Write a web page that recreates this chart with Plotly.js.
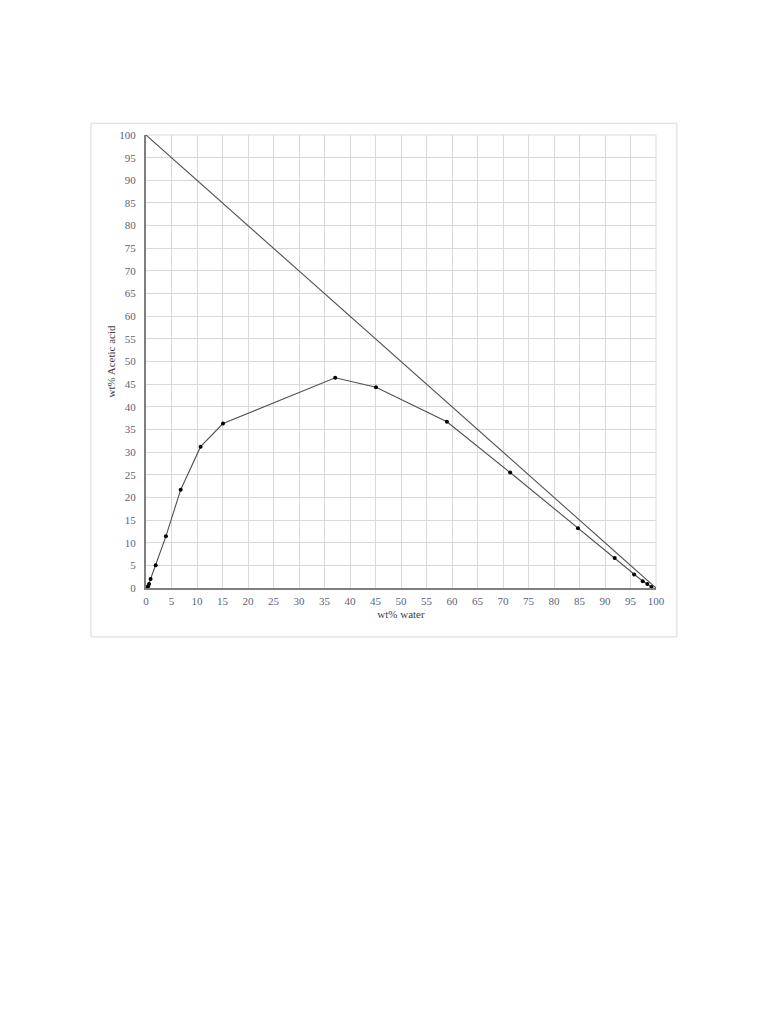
<!DOCTYPE html>
<html>
<head>
<meta charset="utf-8">
<script src="https://cdn.plot.ly/plotly-3.0.1.min.js"></script>
<style>
html,body{margin:0;padding:0;background:#fff;}
#chart{width:768px;height:1024px;}
</style>
</head>
<body>
<div id="chart"></div>
<script>
// Binodal curve data (wt% water, wt% acetic acid)
var waterPct = [0.2, 0.4, 0.6, 0.9, 1.9, 3.9, 6.8, 10.7, 15.1, 37.1, 45.1, 59.0, 71.4, 84.7, 91.9, 95.7, 97.4, 98.3, 99.1];
var aceticPct = [0.1, 0.4, 0.9, 2.0, 5.0, 11.4, 21.7, 31.2, 36.3, 46.4, 44.3, 36.7, 25.5, 13.2, 6.6, 3.0, 1.5, 0.9, 0.2];
// Triangle hypotenuse
var hypX = [0, 100];
var hypY = [100, 0];
var tickVals = [0,5,10,15,20,25,30,35,40,45,50,55,60,65,70,75,80,85,90,95,100];
var xTitle = 'wt% water';
var yTitle = 'wt% Acetic acid';

var traces = [
  {x: hypX, y: hypY, mode: 'lines', line: {color: '#505050', width: 1.1}, hoverinfo: 'skip'},
  {x: waterPct, y: aceticPct, mode: 'lines+markers',
   line: {color: '#505050', width: 1.1},
   marker: {color: '#000000', size: 4}}
];

var axisFont = {family: 'Liberation Serif, serif', size: 11, color: '#5b6378'};
var layout = {
  width: 768, height: 1024,
  margin: {l: 146, r: 112, t: 135, b: 436},
  paper_bgcolor: '#ffffff', plot_bgcolor: '#ffffff',
  showlegend: false,
  xaxis: {
    range: [0, 100], tickvals: tickVals, ticks: '', tickfont: axisFont,
    showgrid: true, gridcolor: '#d9d9d9', gridwidth: 1,
    zeroline: false, showline: true, linecolor: '#7f7f7f', linewidth: 2,
    mirror: false, ticklabelstandoff: 2,
    title: {text: xTitle, font: {family: 'Liberation Serif, serif', size: 11, color: '#404040'}, standoff: 4}
  },
  yaxis: {
    range: [0, 100], tickvals: tickVals, ticks: '', tickfont: axisFont,
    showgrid: true, gridcolor: '#d9d9d9', gridwidth: 1,
    zeroline: false, showline: true, linecolor: '#7f7f7f', linewidth: 2,
    ticklabelstandoff: 6,
    title: {text: yTitle, font: {family: 'Liberation Serif, serif', size: 11, color: '#404040'}, standoff: 1}
  },
  shapes: [
    {type: 'rect', xref: 'paper', yref: 'paper', x0: -0.108, x1: 1.041, y0: -0.108, y1: 1.026,
     line: {color: '#d9d9d9', width: 1}, fillcolor: 'rgba(0,0,0,0)', layer: 'below'},
    {type: 'line', xref: 'paper', yref: 'paper', x0: 1, x1: 1, y0: 0, y1: 1,
     line: {color: '#d9d9d9', width: 1}, layer: 'below'},
    {type: 'line', xref: 'paper', yref: 'paper', x0: 0, x1: 1, y0: 1, y1: 1,
     line: {color: '#d9d9d9', width: 1}, layer: 'below'}
  ]
};

Plotly.newPlot('chart', traces, layout, {displayModeBar: false, staticPlot: true});
</script>
</body>
</html>
